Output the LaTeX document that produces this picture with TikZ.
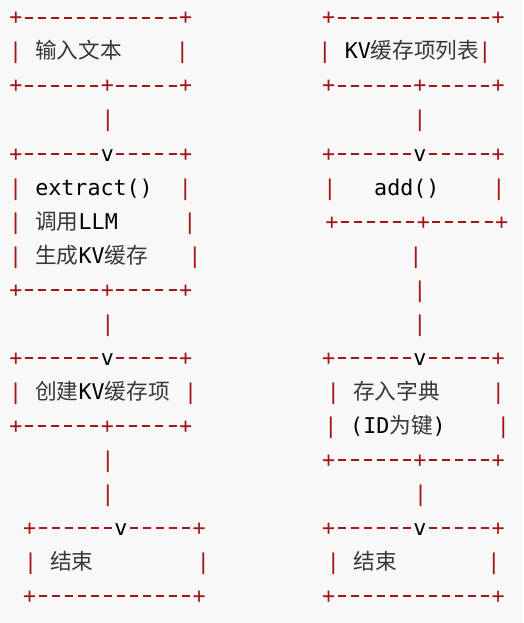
\documentclass[tikz,border=0pt]{standalone}
\usepackage{fontspec}
\usepackage{xcolor}
\newfontfamily\artfont{DejaVu Sans Mono}
\newfontfamily\cjk{Noto Sans CJK SC}
\definecolor{artred}{RGB}{163,21,21}
\definecolor{zhgray}{RGB}{55,55,55}
\definecolor{pagebg}{RGB}{248,248,248}
\newcommand\artsize{\fontsize{21.68}{26}\selectfont}
\newcommand\dsh[1]{\foreach \k in {1,...,#1}{\makebox[13.05pt]{\rule[6.4pt]{8pt}{1.9pt}}}}
\newcommand\tip{{\color{black}v}}
\newcommand\lat[1]{{\artfont\color{black}#1}}

\begin{document}
\begin{tikzpicture}[
  x=1pt, y=-1pt,
  border/.style={anchor=base west, inner sep=0pt, text=artred, font=\artfont\artsize},
  bar/.style={anchor=base, inner sep=0pt, text=artred, font=\artfont\artsize},
  code/.style={anchor=base west, inner sep=0pt, text=black, font=\artfont\artsize},
  zh/.style={anchor=base west, inner sep=0pt, text=zhgray, font=\cjk\artsize}
]
  \fill[pagebg] (0,0) rectangle (523,623);
  \useasboundingbox (0,0) rectangle (523,623);

  % Coluna esquerda: caminho do extract.
  \node[border] (inTop) at (9.2,25) {+\dsh{12}+};
  \node[bar] (inL) at (15.7,59) {|};
  \node[zh] (inTxt) at (35.1,59) {输入文本};
  \node[bar] (inR) at (182.3,59) {|};
  \node[border] (inBot) at (9.2,93) {+\dsh{6}+\dsh{5}+};
  \node[bar] (a1) at (108,127) {|};
  \node[border] (exTop) at (9.2,161) {+\dsh{6}\tip\dsh{5}+};
  \node[bar] (exL) at (15.7,195) {|};
  \node[code] (exCode) at (35.1,195) {extract()};
  \node[bar] (exR) at (185.5,195) {|};
  \node[bar] (llmL) at (15.7,229) {|};
  \node[zh] (llmTxt) at (35.1,229) {调用\lat{LLM}};
  \node[bar] (llmR) at (190,229) {|};
  \node[bar] (genL) at (15.7,263) {|};
  \node[zh] (genTxt) at (35.1,263) {生成\lat{KV}缓存};
  \node[bar] (genR) at (195,263) {|};
  \node[border] (exBot) at (9.2,297) {+\dsh{6}+\dsh{5}+};
  \node[bar] (a2) at (108,331) {|};
  \node[border] (mkTop) at (9.2,365) {+\dsh{6}\tip\dsh{5}+};
  \node[bar] (mkL) at (15.7,399) {|};
  \node[zh] (mkTxt) at (35.1,399) {创建\lat{KV}缓存项};
  \node[bar] (mkR) at (190.7,399) {|};
  \node[border] (mkBot) at (9.2,433) {+\dsh{6}+\dsh{5}+};
  \node[bar] (a3) at (108,467) {|};
  \node[bar] (a4) at (108,501) {|};
  \node[border] (endLTop) at (22.8,535) {+\dsh{6}\tip\dsh{5}+};
  \node[bar] (endLL) at (30.7,569) {|};
  \node[zh] (endLTxt) at (50,569) {结束};
  \node[bar] (endLR) at (203.3,569) {|};
  \node[border] (endLBot) at (22.8,603) {+\dsh{12}+};

  % Coluna direita: caminho do add.
  \node[border] (listTop) at (321.8,25) {+\dsh{12}+};
  \node[bar] (listL) at (325,59) {|};
  \node[zh] (listTxt) at (344.6,59) {\lat{KV}缓存项列表};
  \node[bar] (listR) at (485,59) {|};
  \node[border] (listBot) at (321.8,93) {+\dsh{6}+\dsh{5}+};
  \node[bar] (b1) at (420,127) {|};
  \node[border] (addTop) at (321.8,161) {+\dsh{6}\tip\dsh{5}+};
  \node[bar] (addL) at (330,195) {|};
  \node[code] (addCode) at (374,195) {add()};
  \node[bar] (addR) at (499,195) {|};
  \node[border] (addBot) at (325.2,229) {+\dsh{6}+\dsh{5}+};
  \node[bar] (b2) at (416,263) {|};
  \node[bar] (b3) at (420,297) {|};
  \node[bar] (b4) at (420,331) {|};
  \node[border] (dictTop) at (321.8,365) {+\dsh{6}\tip\dsh{5}+};
  \node[bar] (dictL) at (333.3,399) {|};
  \node[zh] (dictTxt) at (352.9,399) {存入字典};
  \node[bar] (dictR) at (498.3,399) {|};
  \node[bar] (keyL) at (331,433) {|};
  \node[zh] (keyTxt) at (350,433) {\lat{(ID}为键\lat{)}};
  \node[bar] (keyR) at (503.3,433) {|};
  \node[border] (dictBot) at (321.8,467) {+\dsh{6}+\dsh{5}+};
  \node[bar] (b5) at (420.7,501) {|};
  \node[border] (endRTop) at (321.8,535) {+\dsh{6}\tip\dsh{5}+};
  \node[bar] (endRL) at (333.3,569) {|};
  \node[zh] (endRTxt) at (353.5,569) {结束};
  \node[bar] (endRR) at (494,569) {|};
  \node[border] (endRBot) at (321.8,603) {+\dsh{12}+};
\end{tikzpicture}
\end{document}
